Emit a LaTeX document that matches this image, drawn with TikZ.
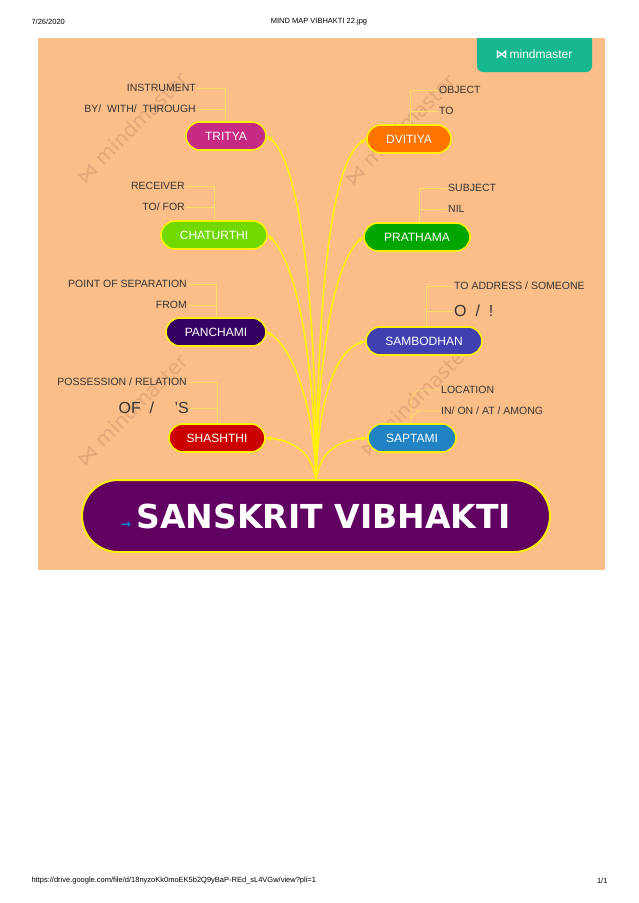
\documentclass[tikz,border=0pt]{standalone}
\usepackage{fontspec}
\setmainfont{Liberation Sans}
\newfontfamily\djv{DejaVu Sans}
\usetikzlibrary{arrows.meta}
\definecolor{bgor}{HTML}{FBBE88}
\definecolor{ylw}{HTML}{FFF200}
\definecolor{brk}{HTML}{FFE066}
\definecolor{mmg}{HTML}{17B890}
\definecolor{wmc}{HTML}{E3A77A}
\begin{document}
\begin{tikzpicture}[x=1pt,y=-1pt,
 cat/.style={draw=ylw,line width=1.6pt,rounded corners=14pt,minimum height=28pt,text=white,font=\fontsize{12}{14}\selectfont,inner sep=0pt},
 lbl/.style={font=\fontsize{10.5}{12}\selectfont,text=black!80,inner sep=1pt},
 br/.style={draw=brk,line width=0.8pt},
 conn/.style={draw=ylw,line width=1.6pt,-{Stealth[length=6pt,width=5pt]}},
 wm/.style={font=\fontsize{20}{24}\selectfont,text=wmc,rotate=45}]
\useasboundingbox (0,0) rectangle (638,903);
\fill[white] (0,0) rectangle (638,903);
\node[font=\fontsize{7.5}{9}\selectfont,anchor=west] (hd) at (28,22) {7/26/2020};
\node[font=\fontsize{7.5}{9}\selectfont] (ht) at (319,22) {MIND MAP VIBHAKTI 22.jpg};
\node[font=\fontsize{7.5}{9}\selectfont,anchor=west] (ft) at (28,881) {https://drive.google.com/file/d/18nyzoKk0moEK5b2Q9yBaP-REd\_sL4VGw/view?pli=1};
\node[font=\fontsize{7.5}{9}\selectfont,anchor=east] (pg) at (611,881) {1/1};
\fill[bgor] (38,38) rectangle (605,570);
% watermarks
\node[wm] (w1) at (132,128) {\djv ⋈ mindmaster};
\node[wm] (w2) at (400,130) {\djv ⋈ mindmaster};
\node[wm] (w3) at (132,410) {\djv ⋈ mindmaster};
\node[wm] (w4) at (415,400) {\djv ⋈ mindmaster};
% badge
\begin{scope}
\clip (38,38) rectangle (605,80);
\fill[mmg,rounded corners=6pt] (477,28) rectangle (592,72);
\end{scope}
\node[text=white,font=\fontsize{12}{14}\selectfont] (mm) at (534,54) {{\djv\bfseries ⋈}\,mindmaster};
% root
\node[cat,fill=violet!75!black,minimum width=468pt,minimum height=72pt,rounded corners=36pt,line width=2pt,font=\fontsize{33}{36}\selectfont\djv\bfseries] (root) at (316,516) {{\fontsize{12}{12}\selectfont\color{cyan!70!blue}\djv →}\,SANSKRIT VIBHAKTI};
\coordinate (hub) at (316,480);
% categories
\node[cat,fill=magenta!80!black,minimum width=80pt] (tri) at (226,136) {TRITYA};
\node[cat,fill=orange!90!red,minimum width=84pt] (dvi) at (409,139) {DVITIYA};
\node[cat,fill=lime!70!green!85!black,minimum width=106pt] (cha) at (214,235) {CHATURTHI};
\node[cat,fill=green!65!black,minimum width=106pt] (pra) at (417,237) {PRATHAMA};
\node[cat,fill=violet!70!blue!60!black,minimum width=100pt] (pan) at (216,332) {PANCHAMI};
\node[cat,fill=blue!60!black!75,minimum width=116pt] (sam) at (424,341) {SAMBODHAN};
\node[cat,fill=red!80!black,minimum width=96pt] (sha) at (217,438) {SHASHTHI};
\node[cat,fill=cyan!70!blue!90!black,minimum width=88pt] (sap) at (412,438) {SAPTAMI};
% connectors
\draw[conn] (hub) .. controls (316,300) and (300,160) .. (tri.east);
\draw[conn] (hub) .. controls (318,300) and (330,160) .. (dvi.west);
\draw[conn] (hub) .. controls (314,350) and (295,260) .. (cha.east);
\draw[conn] (hub) .. controls (318,350) and (335,260) .. (pra.west);
\draw[conn] (hub) .. controls (314,400) and (290,345) .. (pan.east);
\draw[conn] (hub) .. controls (318,400) and (335,350) .. (sam.west);
\draw[conn] (hub) .. controls (312,450) and (290,440) .. (sha.east);
\draw[conn] (hub) .. controls (320,450) and (340,440) .. (sap.west);
% labels left
\node[lbl,anchor=east] (l1) at (197,88) {INSTRUMENT};
\node[lbl,anchor=east] (l2) at (197,109) {BY/ \ WITH/ \ THROUGH};
\draw[br] (l1.east) -- (225,88) -- (tri.north -| 225,0);
\draw[br] (l2.east) -- (225,109);
\node[lbl,anchor=east] (l3) at (186,186) {RECEIVER};
\node[lbl,anchor=east] (l4) at (186,207) {TO/ FOR};
\draw[br] (l3.east) -- (214,186) -- (cha.north);
\draw[br] (l4.east) -- (214,207);
\node[lbl,anchor=east] (l5) at (188,284) {POINT OF SEPARATION};
\node[lbl,anchor=east] (l6) at (188,305) {FROM};
\draw[br] (l5.east) -- (216,284) -- (pan.north);
\draw[br] (l6.east) -- (216,305);
\node[lbl,anchor=east] (l7) at (188,382) {POSSESSION / RELATION};
\node[lbl,anchor=east,font=\fontsize{16}{18}\selectfont] (l8) at (190,408) {OF \ / \quad 'S};
\draw[br] (l7.east) -- (217,382) -- (sha.north);
\draw[br] (l8.east) -- (217,408);
% labels right
\node[lbl,anchor=west] (r1) at (438,90) {OBJECT};
\node[lbl,anchor=west] (r2) at (438,111) {TO};
\draw[br] (r1.west) -- (410,90) -- (dvi.north -| 410,0);
\draw[br] (r2.west) -- (410,111);
\node[lbl,anchor=west] (r3) at (447,188) {SUBJECT};
\node[lbl,anchor=west] (r4) at (447,209) {NIL};
\draw[br] (r3.west) -- (419,188) -- (pra.north -| 419,0);
\draw[br] (r4.west) -- (419,209);
\node[lbl,anchor=west] (r5) at (453,286) {TO ADDRESS / SOMEONE};
\node[lbl,anchor=west,font=\fontsize{16}{18}\selectfont] (r6) at (453,311) {O \ / \ !};
\draw[br] (r5.west) -- (426,286) -- (sam.north -| 426,0);
\draw[br] (r6.west) -- (426,311);
\node[lbl,anchor=west] (r7) at (440,390) {LOCATION};
\node[lbl,anchor=west] (r8) at (440,411) {IN/ ON / AT / AMONG};
\draw[br] (r7.west) -- (418,390) -- (411,398) -- (sap.north -| 411,0);
\draw[br] (r8.west) -- (418,411) -- (411,418);
\end{tikzpicture}
\end{document}
